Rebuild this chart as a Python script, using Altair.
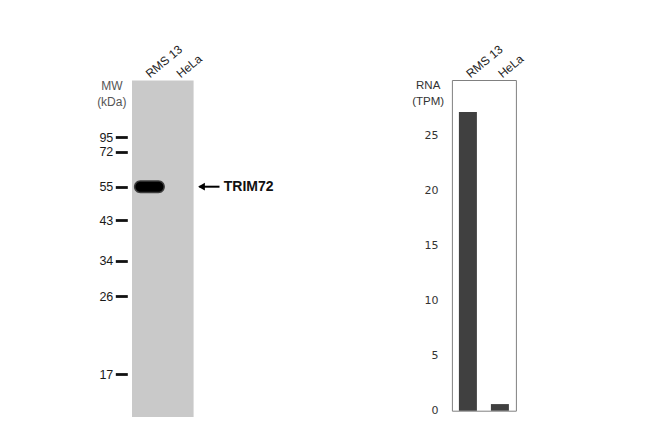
import altair as alt
import pandas as pd

# ---- data ----
lanes = ["RMS 13", "HeLa"]
mw_markers = [95, 72, 55, 43, 34, 26, 17]
band_lanes = ["RMS 13"]
band_mw = [55]
target_name = ["TRIM72"]
rna_tpm = [27.1, 0.6]
tpm_ticks = [0, 5, 10, 15, 20, 25]

FONT = "Liberation Sans"

band_df = pd.DataFrame({"lane": band_lanes, "mw": band_mw, "label": target_name})
rna_df = pd.DataFrame({"lane": lanes, "tpm": rna_tpm})


def stadium(ratio):
    """Capsule-shaped symbol path in the [-1, 1] box; ratio = height/width."""
    r = ratio
    a = 1 - r
    k = 0.5523 * r
    return (
        f"M{-a},{-r} L{a},{-r} "
        f"C{a + k},{-r} {1},{-k} {1},0 "
        f"C{1},{k} {a + k},{r} {a},{r} "
        f"L{-a},{r} "
        f"C{-a - k},{r} {-1},{k} {-1},0 "
        f"C{-1},{-k} {-a - k},{-r} {-a},{-r} Z"
    )


lane_axis = dict(
    orient="top", labelAngle=320, labelAlign="left", labelBaseline="middle",
    labelPadding=5, ticks=False, domain=False, title=None,
    labelFont=FONT, labelFontSize=12, labelColor="#222222",
)

x_blot = alt.X("lane:N", scale=alt.Scale(domain=lanes, paddingInner=0, paddingOuter=0),
               axis=alt.Axis(**lane_axis))
y_blot = alt.Y(
    "mw:Q",
    scale=alt.Scale(type="linear", domain=sorted(mw_markers),
                    range=[294, 216, 180.7, 140, 106.7, 71.7, 57.3],
                    zero=False, nice=False),
    axis=alt.Axis(
        values=mw_markers, orient="left", offset=4.2, tickSize=12, tickWidth=2.8,
        tickColor="#111111", domain=False, grid=False, labelPadding=2.5,
        labelFont=FONT, labelFontSize=12.5, labelColor="#1a1a1a",
        title=["MW", "(kDa)"], titleAngle=0, titleAlign="center",
        titleBaseline="alphabetic", titleX=-16, titleY=9.8, titleFont=FONT,
        titleFontSize=12, titleFontWeight="normal", titleColor="#555555",
        titleLineHeight=15.5,
    ),
)

base = alt.Chart(band_df)
halo = base.mark_point(shape=stadium(13 / 31), size=31 * 31, filled=True,
                       color="#3c3c3c", opacity=1, xOffset=2.5).encode(x=x_blot, y=y_blot)
core = base.mark_point(shape=stadium(10 / 28), size=28 * 28, filled=True,
                       color="#000000", opacity=1, xOffset=2.5).encode(x="lane:N", y="mw:Q")
arrow_line = base.mark_rule(strokeWidth=2, color="#000000").encode(
    x=alt.value(68), x2=alt.value(88), y="mw:Q")
arrow_head = base.mark_point(shape="triangle-left", size=60, filled=True,
                             color="#000000", opacity=1).encode(x=alt.value(70), y="mw:Q")
label = base.mark_text(align="left", baseline="middle", font=FONT, fontSize=14,
                       fontWeight="bold", color="#111111").encode(
    x=alt.value(92.3), y="mw:Q", text="label:N")

blot = alt.layer(halo, core, arrow_line, arrow_head, label).properties(
    width=61.6, height=336.7,
    view=alt.ViewBackground(fill="#c9c9c9", strokeOpacity=0),
)

bars = alt.Chart(rna_df).mark_bar(size=18, color="#404040").encode(
    x=alt.X("lane:N", sort=lanes, scale=alt.Scale(domain=lanes), axis=alt.Axis(**lane_axis)),
    y=alt.Y(
        "tpm:Q",
        scale=alt.Scale(domain=[0, 30], nice=False, zero=True),
        axis=alt.Axis(
            values=tpm_ticks, ticks=False, tickSize=0, domain=False, grid=False,
            labelPadding=14, labelFont="DejaVu Sans", labelFontSize=11,
            labelColor="#333333",
            title=["RNA", "(TPM)"], titleAngle=0, titleAlign="center",
            titleBaseline="alphabetic", titleX=-24.2, titleY=8, titleFont=FONT,
            titleFontSize=11.5, titleFontWeight="normal", titleColor="#333333",
            titleLineHeight=16.5,
        ),
    ),
).properties(
    width=64, height=330.7,
    view=alt.ViewBackground(fill="white", stroke="#808080", strokeWidth=1),
)

chart = alt.hconcat(blot, bars, spacing=258.4, bounds="flush").properties(
    padding={"left": 88.5, "top": 34, "right": 0, "bottom": 0},
    background="white",
)

chart.save("out.html", embed_options={"renderer": "svg", "actions": False})
